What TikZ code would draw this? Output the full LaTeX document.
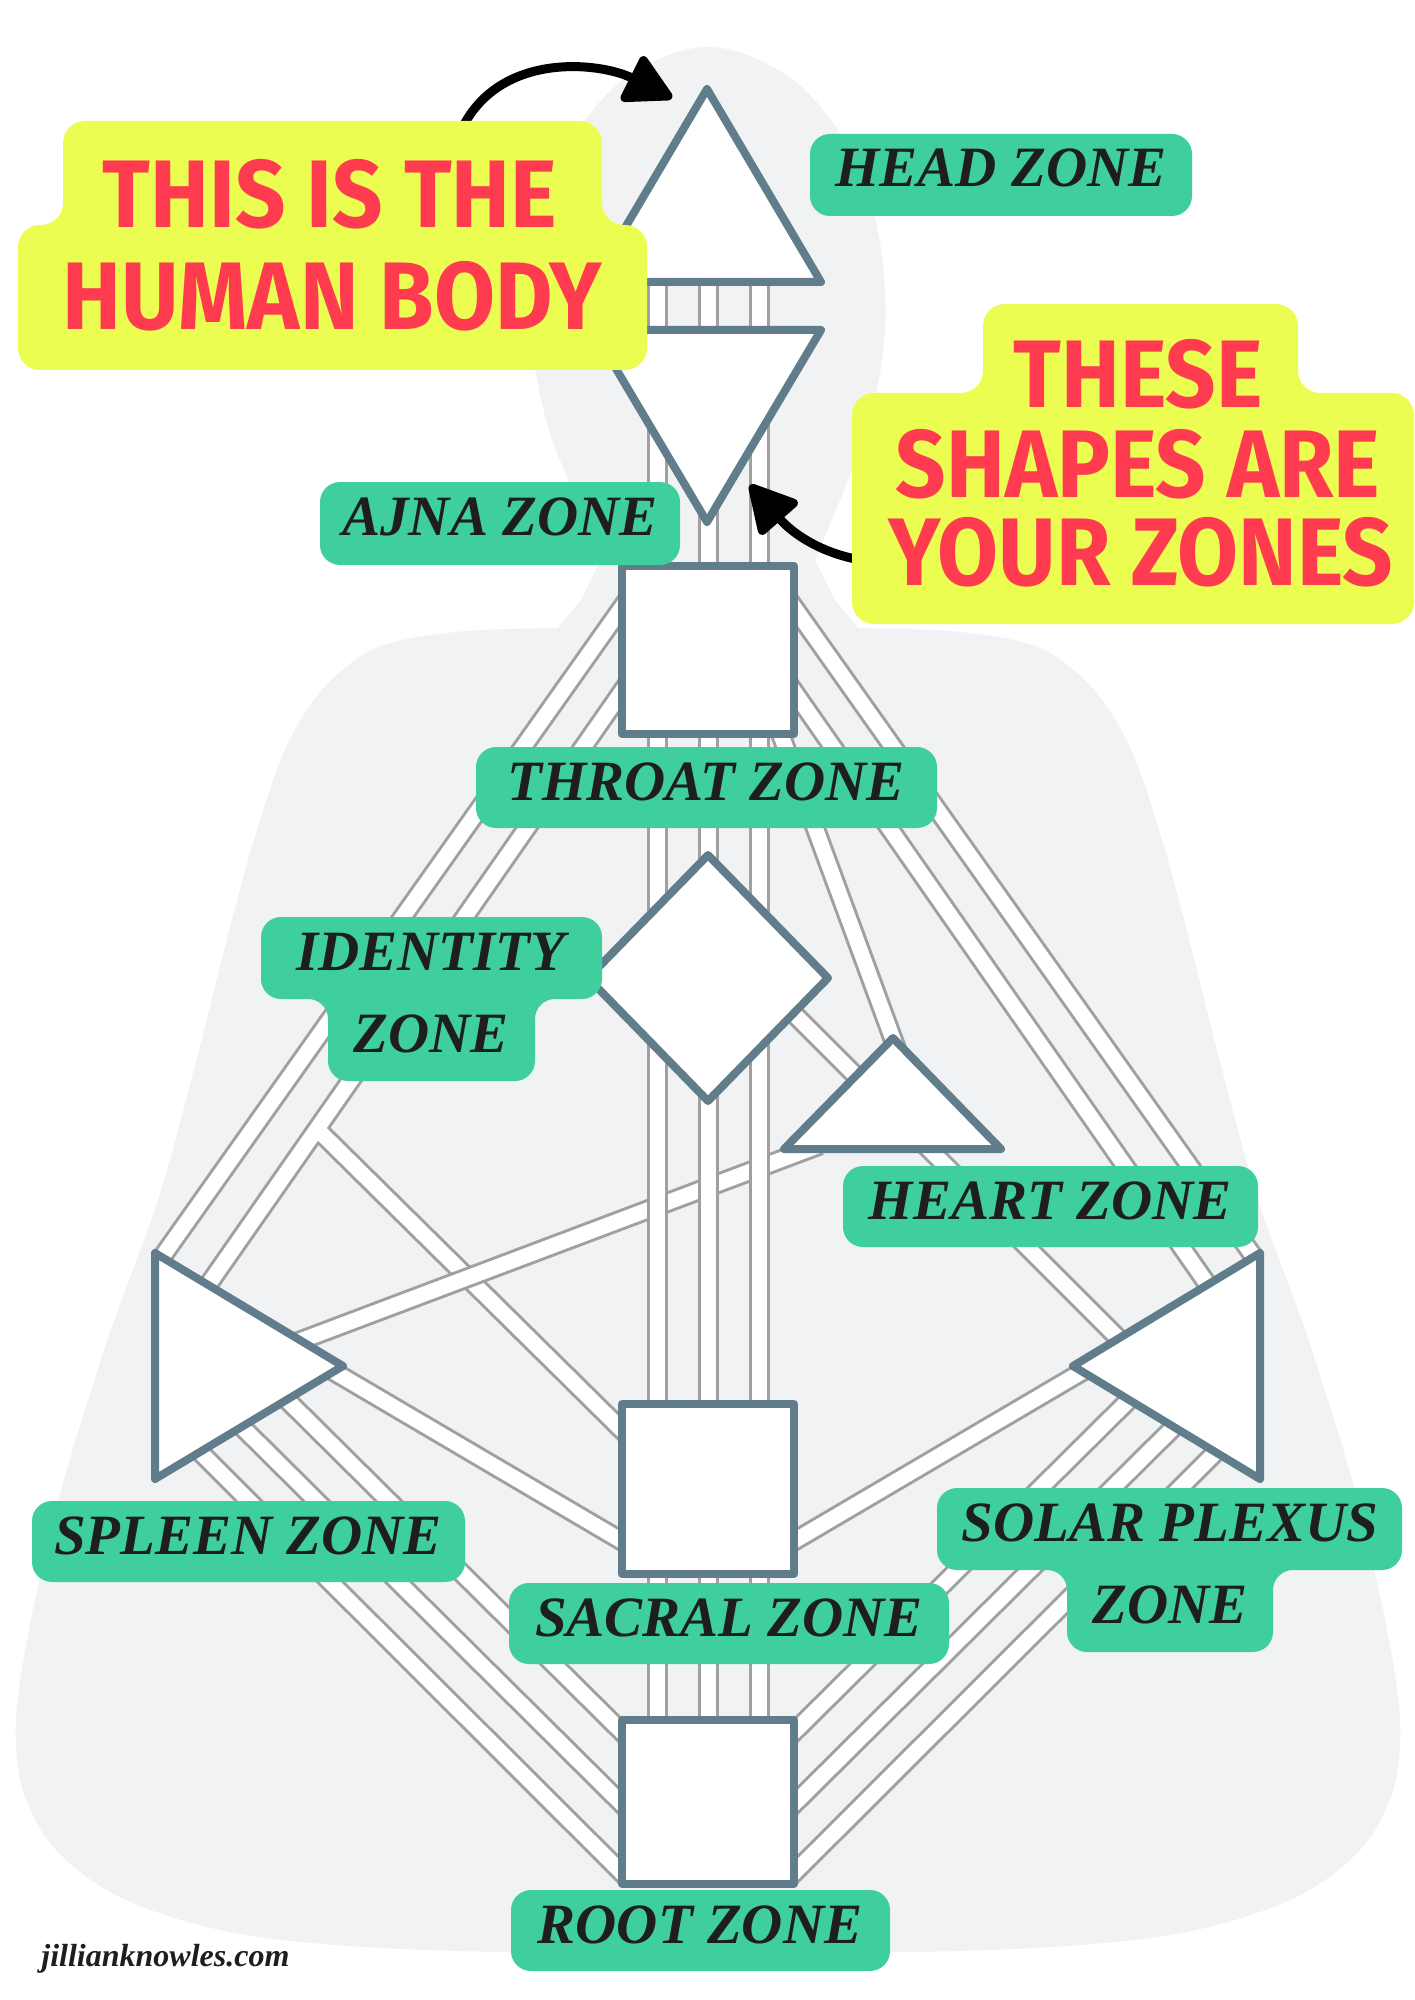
\documentclass[tikz,border=0pt]{standalone}
\usepackage{fontspec}
\setmainfont{Liberation Serif}
\newfontfamily\handfont{Fira Sans}
\usetikzlibrary{arrows.meta}
\definecolor{bodyfill}{RGB}{241,242,244}
\definecolor{cstroke}{RGB}{97,125,139}
\definecolor{chgray}{RGB}{160,160,160}
\definecolor{zgreen}{RGB}{62,207,157}
\definecolor{hlyellow}{RGB}{235,253,81}
\definecolor{hlred}{RGB}{255,59,80}
\definecolor{ztext}{RGB}{30,30,30}
\tikzset{
  chback/.style={draw=chgray,line width=10.5pt},
  chfront/.style={draw=white,line width=7.5pt},
  center/.style={draw=cstroke,fill=white,line width=4pt,line join=round},
  zbox/.style={fill=zgreen,rounded corners=10pt},
  ybox/.style={fill=hlyellow,rounded corners=11pt},
  ztxt/.style={text=ztext,font=\fontsize{28.5}{30}\selectfont\bfseries\itshape,inner sep=0pt,anchor=base},
  ytxt/.style={text=hlred,font=\fontsize{48}{50}\selectfont\handfont\bfseries,inner sep=0pt,anchor=base},
  bigarrow/.style={draw=black,line width=4.5pt,-{Triangle[length=26pt,width=27pt,round]}}
}
\begin{document}
\begin{tikzpicture}[x=0.5pt,y=-0.5pt]
\useasboundingbox (0,0) rectangle (1414,2000);
\fill[white] (0,0) rectangle (1414,2000);
% silhouette
\fill[bodyfill] plot[smooth cycle,tension=0.55] coordinates {
(560,628) (708,626) (856,628) (960,632) (1040,648) (1094,690) (1132,752) (1165,850)
(1193,955) (1222,1070) (1258,1200) (1305,1330) (1352,1480) (1385,1620) (1400,1720)
(1393,1790) (1360,1850) (1290,1900) (1170,1935) (990,1950) (708,1953) (426,1950)
(246,1935) (126,1900) (56,1850) (23,1790) (16,1720) (31,1620) (64,1480) (111,1330)
(158,1200) (194,1070) (223,955) (251,850) (284,752) (322,690) (376,648) (456,632)};
\fill[bodyfill] plot[smooth,tension=0.6] coordinates {
(598,565) (574,495) (549,430) (534,360) (531,290) (543,210) (575,135) (630,75) (708,47)
(786,75) (841,135) (873,210) (885,290) (882,360) (867,430) (842,495) (815,560)}
 -- (835,600) -- (862,632) -- (554,632) -- (581,600) -- cycle;
% channel end points
\coordinate (tla) at (630,596); \coordinate (sla) at (162,1257);
\coordinate (tlb) at (630,680); \coordinate (slb) at (199,1298);
\coordinate (jn) at (317,1129); \coordinate (sacA) at (632,1440);
\coordinate (tra) at (786,596); \coordinate (spa) at (1254,1257);
\coordinate (trb) at (786,680); \coordinate (spb) at (1217,1298);
\coordinate (th1) at (778,727); \coordinate (hr1) at (897,1050);
\coordinate (g1) at (770,990); \coordinate (sp1) at (1128,1348);
\coordinate (hs1) at (820,1145); \coordinate (hs2) at (289,1345);
\coordinate (ss1) at (331,1370); \coordinate (ss2) at (632,1547);
\coordinate (ps1) at (1085,1370); \coordinate (ps2) at (784,1547);
\coordinate (sr1a) at (196,1448); \coordinate (sr1b) at (630,1881);
\coordinate (sr2a) at (238,1423); \coordinate (sr2b) at (632,1814);
\coordinate (sr3a) at (284,1397); \coordinate (sr3b) at (632,1742);
\coordinate (pr1a) at (1220,1448); \coordinate (pr1b) at (786,1881);
\coordinate (pr2a) at (1178,1423); \coordinate (pr2b) at (784,1814);
\coordinate (pr3a) at (1132,1397); \coordinate (pr3b) at (784,1742);
\coordinate (v1t) at (657,270); \coordinate (v1b) at (657,1730);
\coordinate (v2t) at (708,270); \coordinate (v2b) at (708,1730);
\coordinate (v3t) at (759,270); \coordinate (v3b) at (759,1730);
% channels
\foreach \a/\b in {tla/sla,tlb/slb,jn/sacA,tra/spa,trb/spb,th1/hr1,g1/sp1,ss1/ss2,ps1/ps2,
  sr1a/sr1b,sr2a/sr2b,sr3a/sr3b,pr1a/pr1b,pr2a/pr2b,pr3a/pr3b}
  \draw[chback] (\a) -- (\b);
\foreach \a/\b in {tla/sla,tlb/slb,jn/sacA,tra/spa,trb/spb,th1/hr1,g1/sp1,ss1/ss2,ps1/ps2,
  sr1a/sr1b,sr2a/sr2b,sr3a/sr3b,pr1a/pr1b,pr2a/pr2b,pr3a/pr3b}
  \draw[chfront] (\a) -- (\b);
\draw[chback] (hs1) -- (hs2); \draw[chfront] (hs1) -- (hs2);
\foreach \a/\b in {v1t/v1b,v2t/v2b,v3t/v3b} \draw[chback] (\a) -- (\b);
\foreach \a/\b in {v1t/v1b,v2t/v2b,v3t/v3b} \draw[chfront] (\a) -- (\b);
% centres
\draw[center] (707,89) -- (821,282) -- (593,282) -- cycle;
\draw[center] (593,330) -- (821,330) -- (707,522) -- cycle;
\draw[center] (622,566) rectangle (794,734);
\draw[center] (708,855) -- (828,978) -- (708,1101) -- (588,978) -- cycle;
\draw[center] (893,1038) -- (1001,1149) -- (784,1149) -- cycle;
\draw[center] (155,1253) -- (343,1366) -- (155,1479) -- cycle;
\draw[center] (1260,1253) -- (1073,1366) -- (1260,1479) -- cycle;
\draw[center] (622,1404) rectangle (794,1574);
\draw[center] (622,1720) rectangle (794,1884);
% green labels
\fill[zbox] (810,134) rectangle (1192,216);
\node[ztxt] (lhead) at (1001,187) {HEAD ZONE};
\fill[zbox] (320,482) rectangle (680,565);
\node[ztxt] (lajna) at (500,535) {AJNA ZONE};
\fill[zbox] (476,747) rectangle (937,828);
\node[ztxt] (lthroat) at (706,800) {THROAT ZONE};
\fill[zbox] (261,917) -- (602,917) -- (602,999) -- (535,999) -- (535,1081) -- (328,1081) -- (328,999) -- (261,999) -- cycle;
\node[ztxt] (lid1) at (431,970) {IDENTITY};
\node[ztxt] (lid2) at (431,1052) {ZONE};
\fill[zbox] (843,1166) rectangle (1258,1247);
\node[ztxt] (lheart) at (1050,1219) {HEART ZONE};
\fill[zbox] (32,1501) rectangle (465,1582);
\node[ztxt] (lspleen) at (248,1554) {SPLEEN ZONE};
\fill[zbox] (509,1583) rectangle (949,1664);
\node[ztxt] (lsacral) at (729,1636) {SACRAL ZONE};
\fill[zbox] (937,1488) -- (1402,1488) -- (1402,1570) -- (1273,1570) -- (1273,1652) -- (1067,1652) -- (1067,1570) -- (937,1570) -- cycle;
\node[ztxt] (lsp1) at (1170,1541) {SOLAR PLEXUS};
\node[ztxt] (lsp2) at (1170,1623) {ZONE};
\fill[zbox] (511,1890) rectangle (890,1971);
\node[ztxt] (lroot) at (700,1943) {ROOT ZONE};
% arrows
\coordinate (a1s) at (459,135); \coordinate (a1e) at (672,98);
\coordinate (a2s) at (875,562); \coordinate (a2e) at (750,485);
\draw[bigarrow] (a1s) .. controls (495,50) and (600,62) .. (a1e);
\draw[bigarrow] (a2s) .. controls (815,556) and (785,525) .. (a2e);
% yellow notes
\fill[ybox] (63,121) -- (602,121) -- (602,225) -- (647,225) -- (647,370) -- (18,370) -- (18,225) -- (63,225) -- cycle;
\node[ytxt] (n1a) at (330,228) {\scalebox{0.92}[1]{THIS IS THE}};
\node[ytxt] (n1b) at (332,330) {\scalebox{0.92}[1]{HUMAN BODY}};
\fill[ybox] (983,304) -- (1298,304) -- (1298,393) -- (1414,393) -- (1414,624) -- (852,624) -- (852,393) -- (983,393) -- cycle;
\node[ytxt] (n2a) at (1138,408) {\scalebox{0.92}[1]{THESE}};
\node[ytxt] (n2b) at (1138,497) {\scalebox{0.92}[1]{SHAPES ARE}};
\node[ytxt] (n2c) at (1141,585) {\scalebox{0.92}[1]{YOUR ZONES}};
% credit
\node[text=ztext,font=\fontsize{16}{18}\selectfont\bfseries\itshape,inner sep=0pt,anchor=base west] (credit) at (41,1966) {jillianknowles.com};
\end{tikzpicture}
\end{document}
